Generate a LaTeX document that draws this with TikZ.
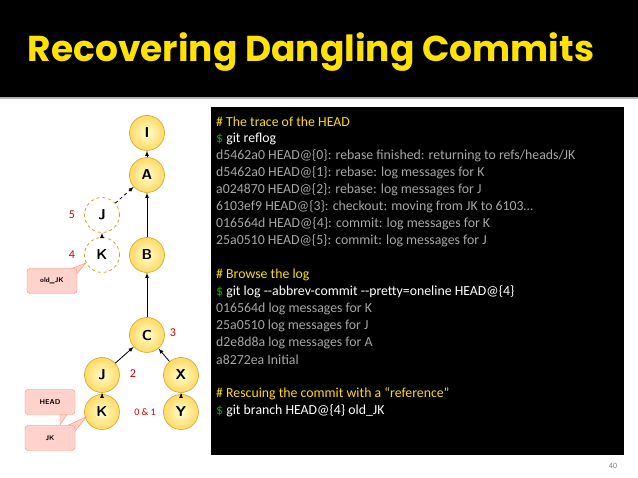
\documentclass[tikz,border=0pt]{standalone}
\usepackage{fontspec}
\setmainfont{Carlito}
\newfontfamily\titlefont{Poppins}
\begin{document}
\begin{tikzpicture}[x=1pt,y=-1pt,
  commit/.style={circle,draw=yellow!55!orange!80!black,line width=0.6pt,inner sep=0pt,minimum size=35pt,
    shading=radial,inner color=yellow!20!white,outer color=yellow!50!orange!60!white,font=\sffamily\bfseries\Large},
  ghost/.style={circle,draw=yellow!50!orange!80!black,dashed,line width=0.8pt,minimum size=35pt,inner sep=0pt,font=\sffamily\bfseries\Large,fill=white},
  num/.style={text=red!80!black,font=\large},
  refbox/.style={rounded corners=3pt,draw=orange!50!red!60,fill=orange!25!red!20,minimum width=50pt,minimum height=25pt,font=\sffamily\bfseries\scriptsize},
  edge/.style={-latex,thick},
  ln/.style={anchor=west,inner sep=0pt,font=\fontsize{13.8}{15}\selectfont}]
\useasboundingbox (0,0) rectangle (638,478);
\fill[white] (0,0) rectangle (638,478);
\fill[black] (0,0) rectangle (638,97);
\draw[gray!60,line width=2pt] (0,98) -- (638,98);
\node[text=yellow!85!orange,font=\titlefont\bfseries\fontsize{36}{40}\selectfont] (title) at (311,52) {Recovering Dangling Commits};
% graph
\node[commit] (I) at (147,133) {I};
\node[commit] (A) at (147,175) {A};
\node[ghost] (J1) at (102,215) {J};
\node[ghost] (K1) at (102,255) {K};
\node[commit] (B) at (147,255) {B};
\node[commit] (C) at (147,335) {C};
\node[commit] (J) at (102,375) {J};
\node[commit] (X) at (181,375) {X};
\node[commit] (K) at (102,412) {K};
\node[commit] (Y) at (181,412) {Y};
\draw[edge] (A) -- (I);
\draw[edge,dashed] (J1) -- (A);
\draw[edge] (K1) -- (J1);
\draw[edge] (B) -- (A);
\draw[edge] (C) -- (B);
\draw[edge] (J) -- (C);
\draw[edge] (X) -- (C);
\draw[edge] (K) -- (J);
\draw[edge] (Y) -- (X);
\node[num] (n5) at (72,215) {5};
\node[num] (n4) at (72,255) {4};
\node[num] (n3) at (173,333) {3};
\node[num] (n2) at (133,374) {2};
\node[num,font=\normalsize] (n01) at (145,412) {0 \& 1};
\fill[orange!25!red!20,draw=orange!50!red!60] (62,272) -- (86,263) -- (70,282) -- cycle;
\node[refbox] (old) at (52,281) {old\_JK};
\fill[orange!25!red!20,draw=orange!50!red!60] (60,410) -- (60,425) -- (70,410) -- cycle;
\node[refbox] (head) at (50,402) {HEAD};
\fill[orange!25!red!20,draw=orange!50!red!60] (62,428) -- (86,417) -- (70,438) -- cycle;
\node[refbox] (jk) at (50,438) {JK};
% console
\fill[black] (211,107) rectangle (624,455);
\begin{scope}[every node/.append style={ln}]
\node[text=yellow!80!orange] (l1) at (216,122) {\# The trace of the HEAD};
\node[text=white] (l2) at (216,139) {\textcolor{green!70!black}{\$} git reflog};
\node[text=gray!70] (l3) at (216,156) {d5462a0 HEAD@\{0\}: rebase finished: returning to refs/heads/JK};
\node[text=gray!70] (l4) at (216,173) {d5462a0 HEAD@\{1\}: rebase: log messages for K};
\node[text=gray!70] (l5) at (216,190) {a024870 HEAD@\{2\}: rebase: log messages for J};
\node[text=gray!70] (l6) at (216,207) {6103ef9 HEAD@\{3\}: checkout: moving from JK to 6103…};
\node[text=gray!70] (l7) at (216,224) {016564d HEAD@\{4\}: commit: log messages for K};
\node[text=gray!70] (l8) at (216,241) {25a0510 HEAD@\{5\}: commit: log messages for J};
\node[text=yellow!80!orange] (l9) at (216,275) {\# Browse the log};
\node[text=white] (l10) at (216,292) {\textcolor{green!70!black}{\$} git log -{}-abbrev-commit -{}-pretty=oneline HEAD@\{4\}};
\node[text=gray!70] (l11) at (216,309) {016564d log messages for K};
\node[text=gray!70] (l12) at (216,326) {25a0510 log messages for J};
\node[text=gray!70] (l13) at (216,343) {d2e8d8a log messages for A};
\node[text=gray!70] (l14) at (216,360) {a8272ea Initial};
\node[text=yellow!80!orange] (l15) at (216,394) {\# Rescuing the commit with a “reference”};
\node[text=white] (l16) at (216,411) {\textcolor{green!70!black}{\$} git branch HEAD@\{4\} old\_JK};
\end{scope}
\node[text=gray,font=\footnotesize] (pg) at (613,466) {40};
\end{tikzpicture}
\end{document}
